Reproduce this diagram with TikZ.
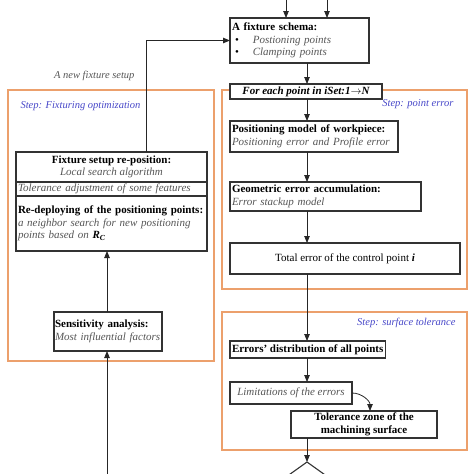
\documentclass[tikz,border=0pt]{standalone}
\usepackage{fontspec}
\setmainfont{Liberation Serif}
\usetikzlibrary{arrows.meta, positioning, shapes.geometric}
\definecolor{steporange}{RGB}{236,160,108}
\definecolor{stepblue}{RGB}{70,70,200}
\definecolor{notegray}{RGB}{85,85,85}
\newcommand{\gnote}[1]{{\itshape\color{notegray}#1}}
\tikzset{
  box/.style={rectangle, draw=black!80, line width=1.1pt, anchor=north west,
              inner xsep=2pt, inner ysep=1pt, outer sep=0pt,
              font=\fontsize{11}{12.5}\selectfont},
  lbox/.style={box, align=left},
  cbox/.style={box, align=center},
  stepframe/.style={draw=steporange, line width=1.3pt},
  steplbl/.style={font=\fontsize{10.5}{12}\selectfont\itshape, text=stepblue},
  arr/.style={-{Triangle[length=7pt, width=5.5pt]}, line width=0.8pt, draw=black!85},
}

\begin{document}
\begin{tikzpicture}[x=1pt, y=-1pt]
  \useasboundingbox (0,0) rectangle (474,474);
  \clip (0,0) rectangle (474,474);

  \draw[stepframe] (8,90) rectangle (214,361);
  \draw[stepframe] (222,90) rectangle (467,289);
  \draw[stepframe] (222,312) rectangle (467,450);

  \node[steplbl, anchor=west] (lblopt) at (17,106) {Step: Fixturing optimization};
  \node[steplbl, anchor=east] (lblerr) at (457,104) {Step: point error};
  \node[steplbl, anchor=east] (lbltol) at (459,323) {Step: surface tolerance};

  \node[lbox, text width=135pt, minimum height=45pt] (schema) at (230,18)
    {\textbf{A fixture schema:}\\
     \hspace{3pt}\textbullet\hspace{14pt}\gnote{Postioning points}\\
     \hspace{3pt}\textbullet\hspace{14pt}\gnote{Clamping points}};

  \node[cbox, fill=white, minimum width=152pt, minimum height=15pt,
        font=\fontsize{11}{12.5}\selectfont\bfseries\itshape] (foreach) at (230,84)
    {For each point in iSet:1$\rightarrow$N};

  \node[lbox, text width=164pt, minimum height=31pt] (posmodel) at (230,121)
    {\textbf{Positioning model of workpiece:}\\
     \gnote{Positioning error and Profile error}};

  \node[lbox, text width=187pt, minimum height=29pt] (geoerr) at (230,182)
    {\textbf{Geometric error accumulation:}\\
     \gnote{Error stackup model}};

  \node[cbox, minimum width=230pt, minimum height=31pt] (toterr) at (230,243)
    {Total error of the control point \textbf{\textit{i}}};

  \node[cbox, minimum width=153pt, minimum height=17pt] (errdist) at (230,341)
    {\textbf{Errors' distribution of all points}};

  \node[cbox, minimum width=122pt, minimum height=22pt] (limit) at (230,382)
    {\gnote{Limitations of the errors}};

  \node[cbox, minimum width=146pt, minimum height=27pt,
        font=\fontsize{11}{13}\selectfont\bfseries] (tolzone) at (291,411)
    {Tolerance zone of the\\machining surface};

  \node[diamond, draw=black!80, line width=1.1pt, outer sep=0pt,
        minimum width=140pt, minimum height=100pt, anchor=north] (check) at (307,462) {};

  \node[cbox, minimum width=191pt, minimum height=30pt] (repos1) at (16,152)
    {\textbf{Fixture setup re-position:}\\
     \gnote{Local search algorithm}};
  \node[lbox, text width=187pt, minimum height=14pt] (repos2) at (repos1.south west)
    {\gnote{Tolerance adjustment of some features}};
  \node[lbox, text width=187pt, minimum height=55pt] (repos3) at (repos2.south west)
    {\textbf{Re-deploying of the positioning points:}\\
     \gnote{a neighbor search for new positioning}\\
     \gnote{points based on} \textbf{\textit{R}}\textsubscript{\textbf{\textit{C}}}};

  \node[lbox, text width=106pt, minimum height=39pt, inner xsep=1pt] (sens) at (54,312)
    {\textbf{Sensitivity analysis:}\\
     \gnote{Most influential factors}};

  \node[font=\fontsize{10.5}{12}\selectfont, anchor=east] (newsetup) at (138,76)
    {\gnote{A new fixture setup}};

  \coordinate (inA) at (286,0);
  \coordinate (inB) at (327,0);
  \coordinate (spine) at (307,0);
  \coordinate (loopx) at (146,0);
  \coordinate (upx) at (107,0);
  \coordinate (src) at (107,474);
  \coordinate (curvx) at (370,0);

  \draw[arr] (inA) -- (inA |- schema.north);
  \draw[arr] (inB) -- (inB |- schema.north);
  \draw[arr] (repos1.north -| loopx) |- (schema.west);

  \draw[arr] (schema.south -| spine) -- (foreach.north -| spine);
  \draw[arr] (foreach.south -| spine) -- (posmodel.north -| spine);
  \draw[arr] (posmodel.south -| spine) -- (geoerr.north -| spine);
  \draw[arr] (geoerr.south -| spine) -- (toterr.north -| spine);
  \draw[arr] (toterr.south -| spine) -- (errdist.north -| spine);
  \draw[arr] (errdist.south -| spine) -- (limit.north -| spine);
  \draw[arr] (limit.east) to[out=0, in=90] (tolzone.north -| curvx);
  \draw[arr] (tolzone.south -| spine) -- (check.north);

  \draw[arr] (src) -- (sens.south -| upx);
  \draw[arr] (sens.north -| upx) -- (repos3.south -| upx);
\end{tikzpicture}
\end{document}
